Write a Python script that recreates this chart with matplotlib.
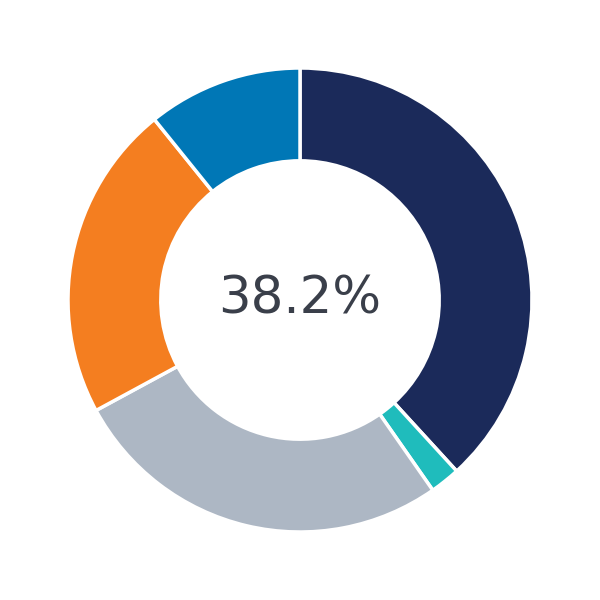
import matplotlib.pyplot as plt

labels = ["Navy", "Teal", "Gray", "Orange", "Blue"]
values = [38.2, 2.1, 26.8, 22.1, 10.8]
colors = ["#1b2a5a", "#1fbcbc", "#adb7c4", "#f47e20", "#0077b6"]
center_text = "38.2%"

fig = plt.figure(figsize=(6, 6), dpi=100)
ax = fig.add_axes([0, 0, 1, 1])
ax.pie(values, colors=colors, startangle=90, counterclock=False,
       radius=1.0, wedgeprops=dict(width=0.40, edgecolor="white", linewidth=2.5))
ax.text(0, 0, center_text, ha="center", va="center", fontsize=37, color="#3a3f4a")
lim = 300 / 232
ax.set_xlim(-lim, lim)
ax.set_ylim(-lim, lim)
ax.set_aspect("equal")
ax.axis("off")
fig.savefig("out.png", dpi=100, facecolor="white")
